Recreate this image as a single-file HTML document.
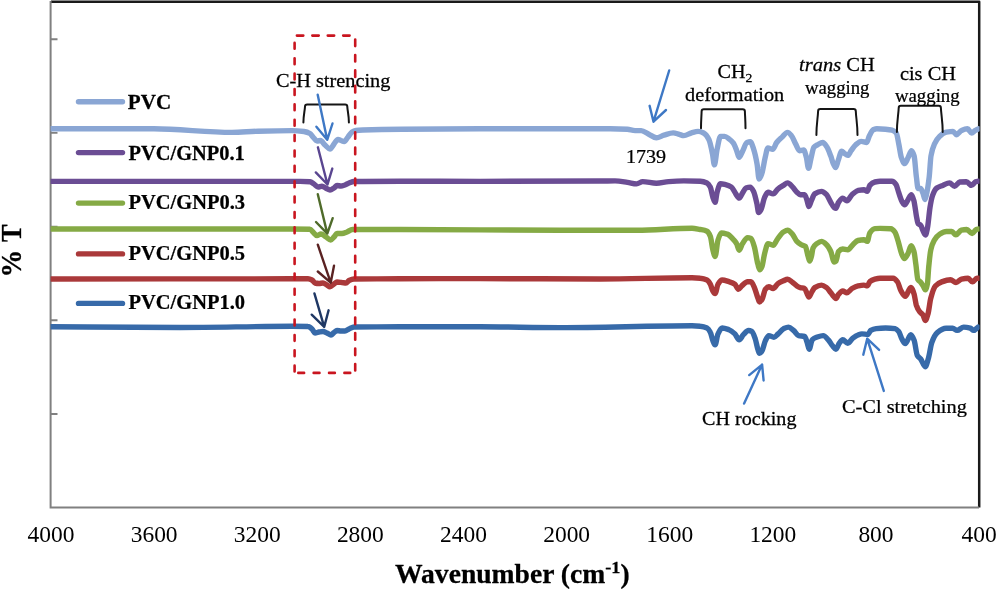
<!DOCTYPE html>
<html><head><meta charset="utf-8"><title>FTIR spectra</title>
<style>html,body{margin:0;padding:0;background:#fff;}svg{display:block;}</style>
</head><body>
<svg width="998" height="590" viewBox="0 0 998 590"><g fill="none" stroke-linecap="butt"><path d="M51 1.85 L979.2 1.85 L979.2 507.5" stroke="#1a1a1a" stroke-width="2.5" stroke-linejoin="round"/><path d="M50.6 1 L50.6 507.6 L979 507.6" stroke="#808080" stroke-width="2"/><path d="M50.6 39.2 H57.5 M50.6 132.9 H57.5 M50.6 226.6 H57.5 M50.6 320.3 H57.5 M50.6 414 H57.5 " stroke="#808080" stroke-width="1.9"/></g><defs><clipPath id="pa"><rect x="50.6" y="0" width="929" height="510"/></clipPath></defs><g fill="none" stroke-width="5.4" stroke-linejoin="round" stroke-linecap="round" clip-path="url(#pa)"><path d="M51 128.7 C85.3 128.7 119.7 128.7 154 128.8 C180 128.9 206 132.4 232 132.4 C240.7 132.4 249.3 131.4 258 131.2 C269.3 130.9 280.7 130.6 292 130.6 C296 130.6 300 131 304 131.5 C306 131.8 308 132.4 310 133.5 C311 134.1 312 135.9 313 137 C314.3 138.4 315.7 141 317 141 C318.2 141 319.3 140.5 320.5 140.5 C322 140.5 323.5 143.7 325 145 C326.7 146.5 328.3 149 330 149 C331.3 149 332.7 145.6 334 144 C335.3 142.4 336.7 139.5 338 139.5 C339 139.5 340 140.2 341 140.5 C342.1 140.8 343.1 141.5 344.2 141.5 C345.5 141.5 346.7 138.5 348 137 C349.3 135.4 350.7 132.8 352 132 C353.3 131.2 354.7 130.7 356 130.5 C358.3 130.2 360.7 130.1 363 130 C376 129.6 389 129.4 402 129.3 C428 129 454 128.8 480 128.8 C523.3 128.7 566.7 128.7 610 128.7 C615.8 128.7 621.6 128.9 627.4 129.3 C630 129.5 632.5 130.6 635.1 130.6 C637.1 130.6 639.2 130.6 641.2 130.6 C643.7 130.6 646.3 133 648.8 134.2 C651.3 135.4 653.9 137.8 656.4 137.8 C658.9 137.8 661.5 135.9 664 135.2 C667.1 134.3 670.1 132.9 673.2 132.9 C675.2 132.9 677.3 133.9 679.3 134.4 C680.8 134.8 682.3 135.6 683.8 135.6 C686.4 135.6 688.9 133.6 691.5 132.9 C693.7 132.3 695.9 131.4 698.1 131.4 C699.9 131.4 701.8 132.1 703.6 133 C705.4 133.9 707.2 136.2 709 139.8 C710.1 142.1 711.3 148 712.4 153.4 C713.1 156.6 713.7 164.9 714.4 164.9 C715.3 164.9 716.2 153.5 717.1 149.3 C718.2 144.1 719.4 136.4 720.5 136.4 C721.9 136.4 723.2 136.4 724.6 136.4 C726.2 136.4 727.7 137.9 729.3 139.1 C730.7 140.1 732 141.3 733.4 143.2 C734.5 144.7 735.6 147.9 736.7 150.7 C737.5 152.7 738.3 157.4 739.1 157.4 C740.3 157.4 741.6 153 742.8 150.7 C744.2 148.1 745.5 143 746.9 142.5 C748 142.1 749.2 141.8 750.3 141.8 C751.4 141.8 752.6 146 753.7 149.3 C754.8 152.6 756 157.8 757.1 164.2 C757.8 168 758.4 179.1 759.1 179.1 C760 179.1 760.9 176.2 761.8 173.7 C762.9 170.6 764.1 162 765.2 157.4 C766.1 153.8 767 147.9 767.9 147.9 C769.5 147.9 771.1 149.3 772.7 149.3 C774 149.3 775.4 144.2 776.7 142.5 C778.5 140.2 780.3 138.8 782.1 137.1 C783.9 135.4 785.7 132.4 787.5 132.4 C788.8 132.4 790.2 134.1 791.5 135.7 C792.9 137.3 794.2 141.4 795.6 143.9 C796.9 146.3 798.3 150.7 799.6 150.7 C801 150.7 802.3 150 803.7 150 C804.6 150 805.5 154.1 806.4 157.4 C807.1 159.9 807.8 168.3 808.5 168.3 C809.3 168.3 810.1 161.9 810.9 158.8 C811.9 154.9 812.9 148.5 813.9 147.3 C815.2 145.7 816.6 145.3 817.9 144.6 C819.5 143.7 821.1 142.5 822.7 142.5 C824 142.5 825.4 144.7 826.7 146.6 C828.1 148.5 829.4 152.5 830.8 156.1 C831.7 158.5 832.6 162.3 833.5 164.2 C834.2 165.7 834.9 167.6 835.6 167.6 C836.5 167.6 837.4 162.5 838.3 160.1 C839.4 157.1 840.6 151.3 841.7 151.3 C842.6 151.3 843.5 152.8 844.4 153.4 C845.5 154.2 846.7 155.4 847.8 155.4 C848.9 155.4 850 152.2 851.1 150.7 C852.7 148.5 854.3 145.9 855.9 144.6 C857.7 143.1 859.5 141.4 861.3 141.4 C863.1 141.4 864.9 142.5 866.7 142.5 C867.6 142.5 868.5 137.4 869.4 135.7 C870.8 133.1 872.1 130.2 873.5 129.6 C874.6 129.2 875.7 128.8 876.8 128.8 C879.6 128.8 882.5 129 885.3 129.2 C887.5 129.4 889.8 129.6 892 130.2 C893.4 130.6 894.9 131.3 896.3 133 C897.1 134 898 140.1 898.8 144.1 C899.7 148.2 900.5 155.2 901.4 157.6 C902.5 160.6 903.6 163.6 904.7 163.6 C905.8 163.6 907 159.7 908.1 157.6 C909.2 155.5 910.4 150.8 911.5 150.8 C912.4 150.8 913.2 153.1 914.1 155.9 C914.9 158.4 915.6 171.1 916.4 177 C917 181.4 917.5 188.5 918.1 188.5 C919 188.5 919.8 188.5 920.7 188.5 C921.5 188.5 922.4 191.7 923.2 193.9 C923.8 195.4 924.3 199.5 924.9 199.5 C925.5 199.5 926 196.3 926.6 193.9 C927.5 190.2 928.3 184.4 929.2 177 C929.8 171.9 930.4 159.3 931 155.9 C932.1 149.5 933.3 146.5 934.4 144.1 C936.1 140.4 937.8 137.9 939.5 136.4 C941.8 134.4 944 132.7 946.3 132.2 C948.5 131.8 950.8 131.4 953 131.4 C954.1 131.4 955.3 134.7 956.4 134.7 C958.1 134.7 959.8 131.2 961.5 130.5 C963.5 129.6 965.5 128.8 967.5 128.8 C968.9 128.8 970.3 133 971.7 133 C972.8 133 974 131.2 975.1 130.5 C976.2 129.8 977.4 129.4 978.5 128.8" stroke="#8aa6d4"/><path d="M51 181.4 C134 181.4 217 181.4 300 181.4 C303.3 181.4 306.7 181.5 310 181.8 C311.3 181.9 312.7 183.2 314 184 C315.3 184.8 316.7 187 318 187 C319.3 187 320.7 186.2 322 186.2 C323.3 186.2 324.7 187.6 326 188.2 C327.3 188.8 328.7 190 330 190 C331.3 190 332.7 188.8 334 188 C335 187.4 336 185.5 337 185.5 C338.3 185.5 339.7 186 341 186 C342.3 186 343.7 185.4 345 185 C346.3 184.6 347.7 183.5 349 183 C350.7 182.4 352.3 181.5 354 181.5 C369.3 181.2 384.7 181.2 400 181.2 C426.7 181.2 453.3 181.4 480 181.4 C520 181.4 560 181.2 600 181 C605 181 610 180.9 615 180.9 C619.1 180.9 623.3 181.8 627.4 182.4 C630.5 182.8 633.5 183.9 636.6 183.9 C638.6 183.9 640.7 181.6 642.7 181.6 C647.3 181.6 651.8 183.2 656.4 183.2 C660.5 183.2 664.5 181.9 668.6 181.6 C673.7 181.2 678.7 180.9 683.8 180.9 C689.3 180.9 694.7 181 700.2 181.2 C702.5 181.3 704.7 181.9 707 182.9 C708.1 183.4 709.2 184.9 710.3 187.1 C711.2 188.8 712 194.8 712.9 197.3 C713.6 199.4 714.4 202.4 715.1 202.4 C715.8 202.4 716.4 194.5 717.1 192.2 C718.2 188.3 719.4 183.7 720.5 183.7 C722.2 183.7 723.9 184.2 725.6 184.6 C727.6 185.1 729.5 185.7 731.5 187.1 C732.9 188.1 734.4 191.9 735.8 193.9 C736.9 195.5 738.1 198.1 739.2 198.1 C740.3 198.1 741.4 194.7 742.5 193 C743.6 191.3 744.8 188.4 745.9 188 C747.3 187.5 748.8 187.1 750.2 187.1 C751.3 187.1 752.5 189.3 753.6 191.4 C754.7 193.5 755.9 199.1 757 204.1 C757.5 206.5 758.1 212.5 758.6 212.5 C759.5 212.5 760.3 210.8 761.2 209.2 C762.3 207.1 763.5 199.7 764.6 197.3 C765.7 194.9 766.9 192.2 768 192.2 C769.7 192.2 771.4 193.9 773.1 193.9 C774.8 193.9 776.4 190.1 778.1 188.8 C779.9 187.4 781.6 186.5 783.4 185.4 C784.8 184.5 786.2 182.9 787.6 182.9 C789.3 182.9 791 185.4 792.7 187.1 C794.1 188.5 795.5 190.9 796.9 192.2 C798 193.2 799.2 194.7 800.3 194.7 C801.7 194.7 803.2 194.7 804.6 194.7 C805.4 194.7 806.3 198.3 807.1 200.7 C807.7 202.3 808.2 206.6 808.8 206.6 C809.7 206.6 810.5 202.6 811.4 200.7 C812.5 198.3 813.6 194.6 814.7 193.9 C817 192.4 819.2 191.4 821.5 191.4 C823.2 191.4 824.9 193 826.6 194.7 C828 196.1 829.4 200.1 830.8 202.4 C831.9 204.3 833.1 206.7 834.2 207.5 C834.8 207.9 835.3 208.3 835.9 208.3 C836.8 208.3 837.6 203.7 838.5 202.4 C839.9 200.4 841.3 198.1 842.7 198.1 C844.1 198.1 845.5 200.7 846.9 200.7 C848.6 200.7 850.3 196.2 852 194.7 C854 192.9 856 191 858 190.5 C860 190.1 861.9 189.7 863.9 189.7 C865 189.7 866.2 191.4 867.3 191.4 C868.1 191.4 869 186.3 869.8 185.4 C871.5 183.5 873.2 182.4 874.9 182 C876.6 181.6 878.3 181.2 880 181.2 C884 181.2 887.9 181.2 891.9 181.2 C893.3 181.2 894.7 182.7 896.1 184.6 C896.9 185.7 897.8 189.8 898.6 192.2 C899.7 195.5 900.9 199.5 902 201.5 C902.9 203 903.7 204.9 904.6 204.9 C905.7 204.9 906.9 201.5 908 199.8 C909.1 198.1 910.3 194.7 911.4 194.7 C912.2 194.7 913.1 197.8 913.9 200.7 C914.7 203.6 915.6 211.6 916.4 215.9 C917 218.8 917.5 222.9 918.1 223.6 C919 224.6 919.8 224.4 920.7 225.3 C921.5 226.2 922.4 229.5 923.2 231.2 C923.9 232.7 924.7 235 925.4 235 C926.1 235 926.8 231.1 927.5 227.8 C928.3 223.8 929.2 212.5 930 207.5 C930.8 202.5 931.7 197.8 932.5 195.6 C933.9 191.7 935.4 189 936.8 188 C938.8 186.6 940.7 186.2 942.7 185.4 C945 184.5 947.2 182.9 949.5 182.9 C951.2 182.9 952.9 186.3 954.6 186.3 C956.3 186.3 958 182.2 959.7 182 C961.9 181.8 964.2 181.7 966.4 181.7 C968.1 181.7 969.8 185.4 971.5 185.4 C972.9 185.4 974.4 182.1 975.8 181.7 C976.7 181.4 977.6 181.4 978.5 181.2" stroke="#6b4d94"/><path d="M51 229 C130.7 229 210.3 229 290 229 C296.7 229 303.3 229 310 229.2 C311 229.2 312 231.1 313 232 C314.3 233.2 315.7 235.6 317 235.6 C318.3 235.6 319.7 234 321 234 C322.7 234 324.3 236 326 237 C327.6 238 329.1 240 330.7 240 C331.8 240 332.9 238.1 334 237 C335 236 336 233.5 337 233.5 C338.7 233.5 340.3 233.5 342 233.5 C343.7 233.5 345.3 232.6 347 232 C348.8 231.3 350.6 229.5 352.4 229.5 C368.3 229.5 384.1 229.5 400 229.5 C453.3 229.5 506.7 230.3 560 230.3 C585.7 230.3 611.3 230.3 637 230.3 C655.3 230.3 673.7 228.2 692 228.2 C694.7 228.2 697.5 229 700.2 229.5 C702.5 229.9 704.7 230.1 707 231.2 C708.1 231.7 709.2 233.6 710.3 236.3 C711.2 238.4 712 246.7 712.9 250 C713.6 252.8 714.4 256.5 715.1 256.5 C716.1 256.5 717 243 718 240 C719.1 236.5 720.3 233 721.4 233 C723.4 233 725.3 233.6 727.3 234.2 C729.3 234.8 731.2 237.2 733.2 239.3 C734.3 240.5 735.5 241.6 736.6 243.6 C737.5 245.1 738.3 250.3 739.2 250.3 C740.3 250.3 741.4 245.3 742.5 243.6 C744.2 241 745.9 237.6 747.6 237.6 C748.7 237.6 749.9 238 751 238.5 C752.1 239 753.3 243.2 754.4 247 C755.5 250.8 756.7 259.8 757.8 263.9 C758.5 266.3 759.1 269.8 759.8 269.8 C760.5 269.8 761.3 268.1 762 266.4 C762.9 264.4 763.7 256.9 764.6 253.7 C765.7 249.5 766.9 243.6 768 243.6 C769.7 243.6 771.4 245.3 773.1 245.3 C774.5 245.3 775.9 241.1 777.3 239.3 C779.3 236.6 781.4 233.2 783.4 232 C784.8 231.2 786.2 230.3 787.6 230.3 C789.3 230.3 791 232.7 792.7 234.6 C794.1 236.2 795.5 239.9 796.9 241.4 C798.3 242.9 799.8 243.9 801.2 244.7 C802.6 245.4 804 245.3 805.4 246.4 C806.3 247.1 807.1 253.2 808 256 C808.6 257.8 809.1 261 809.7 261 C810.3 261 810.9 258.2 811.5 256 C812 254.2 812.5 249.2 813 248.1 C814.1 245.6 815.3 244.7 816.4 243.9 C818.1 242.7 819.8 241.4 821.5 241.4 C823.2 241.4 824.9 243.1 826.6 244.7 C828 246 829.4 248.5 830.8 251.5 C831.9 253.9 833.1 262 834.2 262 C834.8 262 835.4 261.6 836 261 C836.8 260.2 837.7 252.4 838.5 251.5 C839.9 250 841.3 249 842.7 249 C844.4 249 846.1 249.8 847.8 249.8 C849.5 249.8 851.2 246.2 852.9 244.7 C854.6 243.2 856.3 240.9 858 240.5 C860 240 861.9 239.7 863.9 239.7 C865 239.7 866.2 241.4 867.3 241.4 C868.1 241.4 869 234.1 869.8 232.9 C871.5 230.4 873.2 228.7 874.9 228.6 C876.6 228.5 878.3 228.4 880 228.4 C883.6 228.4 887.2 228.5 890.8 228.8 C892.2 228.9 893.5 230.4 894.9 232.2 C896 233.7 897.2 238.1 898.3 241.7 C899.4 245.3 900.6 251.3 901.7 253.9 C902.6 256 903.5 258.6 904.4 258.6 C905.5 258.6 906.7 255.9 907.8 253.9 C908.9 251.9 910.1 245.7 911.2 245.7 C912.1 245.7 913 248.3 913.9 251.2 C914.6 253.3 915.2 260 915.9 264.7 C916.6 269.4 917.2 278.4 917.9 279.6 C918.8 281.3 919.8 281.2 920.7 282.3 C921.6 283.4 922.5 285 923.4 286.4 C924.1 287.5 924.7 289.8 925.4 289.8 C926.1 289.8 926.7 287.1 927.4 283.7 C927.9 281.3 928.3 270.8 928.8 266.1 C929.5 259.4 930.1 252.7 930.8 249.8 C931.9 244.9 933.1 242.2 934.2 240.3 C936 237.3 937.8 235.3 939.6 234.2 C941.9 232.8 944.1 231.5 946.4 231.5 C948.2 231.5 950 231.5 951.8 231.5 C953.2 231.5 954.5 234.9 955.9 234.9 C957.7 234.9 959.5 230.6 961.3 230.2 C963.1 229.8 964.9 229.5 966.7 229.5 C968.5 229.5 970.3 233.6 972.1 233.6 C973.5 233.6 974.8 230 976.2 229.5 C977 229.2 977.7 229.2 978.5 229" stroke="#85aa45"/><path d="M51 279 C130.7 278.9 210.3 278.9 290 278.8 C296 278.8 302 278.7 308 278.7 C309.3 278.7 310.7 279.3 312 280 C313 280.5 314 282.8 315 283 C316.3 283.3 317.7 283.5 319 283.5 C320.3 283.5 321.7 283 323 283 C324.3 283 325.7 284.3 327 285 C328 285.5 329 286.8 330 286.8 C331.3 286.8 332.7 284.9 334 284 C335 283.3 336 282 337 282 C338.7 282 340.3 282.3 342 282.5 C343.3 282.6 344.7 283 346 283 C347 283 348 281 349 280.5 C350.7 279.7 352.3 279 354 279 C369.3 278.8 384.7 278.8 400 278.8 C426.7 278.7 453.3 278.6 480 278.6 C520 278.6 560 279 600 279 C630.7 279 661.3 277.8 692 277.8 C694.7 277.8 697.5 278 700.2 278.3 C702.5 278.5 704.7 279 707 280 C708.1 280.5 709.2 282.3 710.3 284.2 C711.2 285.7 712 289.6 712.9 291 C713.6 292.2 714.4 293.6 715.1 293.6 C716.1 293.6 717 285.7 718 284.2 C719.4 282 720.8 280 722.2 280 C724.5 280 726.7 281 729 281.7 C731 282.3 732.9 282.8 734.9 284.2 C736 285 737.2 289.3 738.3 289.3 C739.4 289.3 740.6 286.9 741.7 285.9 C743.7 284.2 745.6 281.7 747.6 281.7 C748.7 281.7 749.9 281.7 751 281.7 C752.1 281.7 753.3 285.1 754.4 287.6 C755.5 290.1 756.7 294.8 757.8 297.8 C758.4 299.3 758.9 302 759.5 302 C760.3 302 761.2 300.7 762 299.5 C763.1 297.8 764.3 290.6 765.4 289.3 C766.5 288 767.7 286.8 768.8 286.8 C770.2 286.8 771.7 288.5 773.1 288.5 C774.8 288.5 776.4 284.5 778.1 283.4 C779.9 282.2 781.6 281.6 783.4 280.8 C784.8 280.2 786.2 279.2 787.6 279.2 C789.3 279.2 791 281.3 792.7 282.5 C794.1 283.5 795.5 285 796.9 285.9 C798 286.6 799.2 287.3 800.3 287.6 C801.7 288 803.2 287.9 804.6 288.5 C805.4 288.8 806.3 291.9 807.1 293.6 C807.7 294.7 808.2 297 808.8 297 C809.7 297 810.5 294.1 811.4 292.7 C812.5 290.9 813.6 288.3 814.7 287.6 C817 286.2 819.2 285.1 821.5 285.1 C823.2 285.1 824.9 286.4 826.6 287.6 C828 288.6 829.4 291 830.8 292.7 C831.9 294.1 833.1 295.8 834.2 297 C834.8 297.6 835.3 298.6 835.9 298.6 C836.8 298.6 837.6 295.4 838.5 294.4 C839.9 292.8 841.3 291 842.7 291 C844.1 291 845.5 292.7 846.9 292.7 C848.6 292.7 850.3 289.5 852 288.5 C854 287.4 856 286.3 858 285.9 C860 285.5 861.9 285.1 863.9 285.1 C865 285.1 866.2 285.9 867.3 285.9 C868.1 285.9 869 282.4 869.8 281.7 C871.5 280.3 873.2 279.7 874.9 279.2 C876.6 278.7 878.3 278.2 880 278.2 C884.4 278.2 888.8 278.2 893.2 278.2 C894.7 278.2 896.1 280 897.6 282 C898.7 283.5 899.8 288.8 900.9 290.7 C902.4 293.3 903.8 296.3 905.3 296.3 C907.1 296.3 909 287.4 910.8 287.4 C911.9 287.4 913 290.8 914.1 294.1 C914.8 296.3 915.6 302.9 916.3 305.1 C917.4 308.3 918.5 310.3 919.6 311.7 C920.7 313.2 921.9 313.4 923 315 C923.7 316.1 924.5 320.5 925.2 320.5 C926.1 320.5 927.1 317 928 313.9 C928.9 310.9 929.8 302 930.7 298.5 C932.2 292.9 933.6 287.9 935.1 286.3 C937.3 283.8 939.5 282.7 941.7 281.9 C944.6 280.8 947.6 279.7 950.5 279.7 C952.3 279.7 954.2 282.6 956 282.6 C957.8 282.6 959.7 279.5 961.5 279.1 C963.7 278.6 965.9 278.2 968.1 278.2 C969.6 278.2 971 281.9 972.5 281.9 C974 281.9 975.4 278.2 976.9 278.2 C977.4 278.2 978 278.2 978.5 278.2" stroke="#aa393a"/><path d="M51 326.7 C94 327 137 327.5 180 327.5 C217.3 327.5 254.7 326.3 292 326.3 C297.3 326.3 302.7 326.3 308 326.5 C309.3 326.5 310.7 327.8 312 329 C313 329.9 314 333 315 333 C316.3 333 317.7 332.2 319 332 C320.3 331.8 321.7 331.5 323 331.5 C324.3 331.5 325.7 332.4 327 333 C328.3 333.6 329.7 335 331 335 C332 335 333 333.2 334 332.5 C335 331.8 336 330.5 337 330.5 C338.3 330.5 339.7 331 341 331 C342.3 331 343.7 331 345 331 C346.3 331 347.7 329.6 349 329 C350.7 328.3 352.3 327 354 327 C369.3 326.8 384.7 326.8 400 326.8 C426.7 326.8 453.3 326.8 480 326.8 C506.7 326.8 533.3 327.6 560 327.6 C604 327.6 648 325.8 692 325.8 C694.7 325.8 697.5 326 700.2 326.3 C702.5 326.5 704.7 327 707 328 C708.1 328.5 709.2 330.1 710.3 332.2 C711.2 333.8 712 338.6 712.9 340.7 C713.6 342.5 714.4 344.9 715.1 344.9 C716.1 344.9 717 335.9 718 333.9 C719.4 330.9 720.8 328 722.2 328 C724.5 328 726.7 328.9 729 329.7 C731 330.4 732.9 332 734.9 333.9 C736.3 335.3 737.8 339.8 739.2 339.8 C740.6 339.8 742 336.1 743.4 334.7 C745.1 333 746.8 330.5 748.5 330.5 C749.6 330.5 750.8 330.9 751.9 331.4 C753 331.9 754.2 335.7 755.3 339 C756.1 341.4 757 346.7 757.8 349.2 C758.4 350.9 758.9 353.4 759.5 353.4 C760.3 353.4 761.2 352.1 762 350.8 C763.1 349.1 764.3 343 765.4 340.7 C766.5 338.4 767.7 335.6 768.8 335.6 C770.5 335.6 772.2 337.3 773.9 337.3 C775.3 337.3 776.7 335.1 778.1 333.9 C779.9 332.4 781.6 329.7 783.4 328.8 C785.1 328 786.8 327.1 788.5 327.1 C790.2 327.1 791.9 329.1 793.6 330.5 C795.3 331.8 796.9 335.2 798.6 335.6 C800.6 336.1 802.6 335.8 804.6 336.4 C805.4 336.6 806.3 340.1 807.1 342.4 C807.8 344.3 808.5 349.2 809.2 349.2 C810.2 349.2 811.2 340.8 812.2 339.8 C813.6 338.3 815 337.8 816.4 337.3 C818.7 336.5 820.9 335.6 823.2 335.6 C824.9 335.6 826.6 338 828.3 339.8 C829.7 341.3 831.1 344.2 832.5 345.8 C833.6 347.1 834.8 349.2 835.9 349.2 C837 349.2 838.2 344.6 839.3 343.2 C840.4 341.8 841.6 339.8 842.7 339.8 C844.4 339.8 846.1 343.2 847.8 343.2 C849.5 343.2 851.2 339.4 852.9 338.1 C854.6 336.8 856.3 335.6 858 335 C859.3 334.5 860.6 333.9 861.9 333.9 C863.9 333.9 865.8 334.5 867.8 334.5 C868.8 334.5 869.8 330.9 870.8 330.3 C872.6 329.3 874.3 328.8 876.1 328.6 C879.3 328.2 882.4 328 885.6 328 C888.8 328 891.9 328.2 895.1 328.6 C896.3 328.8 897.5 330.1 898.7 331.5 C899.8 332.8 900.9 337.3 902 339.2 C903.1 341.1 904.2 343.6 905.3 343.6 C907.1 343.6 909 334.8 910.8 334.8 C911.9 334.8 913 337.6 914.1 340.3 C915.2 343 916.3 353.9 917.4 355.7 C918.5 357.5 919.6 357.6 920.7 359 C922.2 360.9 923.7 366.7 925.2 366.7 C926.3 366.7 927.4 361.6 928.5 357.9 C929.6 354.2 930.7 345.5 931.8 342.5 C933.6 337.6 935.5 334.1 937.3 332.6 C940.2 330.2 943.2 328.2 946.1 328.2 C948.3 328.2 950.5 328.2 952.7 328.2 C954.2 328.2 955.6 330.4 957.1 330.4 C959.3 330.4 961.5 327.1 963.7 327.1 C965.9 327.1 968.1 327.6 970.3 328.2 C971.4 328.5 972.5 330.4 973.6 330.4 C975.1 330.4 976.5 328.2 978 327.1" stroke="#376aa9"/></g><g fill="none" stroke-width="5.4" stroke-linejoin="round" stroke-linecap="round"><path d="M78.5 101.7 H122.5" stroke="#8aa6d4"/><path d="M78.5 152.6 H122.5" stroke="#6b4d94"/><path d="M78.5 203.1 H122.5" stroke="#85aa45"/><path d="M78.5 253.9 H122.5" stroke="#aa393a"/><path d="M78.5 303.4 H122.5" stroke="#376aa9"/></g><g fill="none" stroke="#151515" stroke-width="2" stroke-linecap="round" stroke-linejoin="round"><path d="M303.4 122.6 C303.4 115.3 304.8 110.8 305 106.6 Q305 104.4 307.2 104.4 L345.1 104.4 Q347.3 104.4 347.3 106.6 C347.5 110.8 348.9 115.3 348.9 122.6"/><path d="M701 128.3 C701 120.7 701.5 115.9 701.6 111.4 Q701.6 109.2 703.8 109.2 L742.7 109.2 Q744.9 109.2 744.9 111.4 C745 115.9 745.5 120.7 745.5 128.3"/><path d="M816.4 134.9 C816.4 124.5 817.8 118.1 818.1 111.2 Q818.1 109 820.3 109 L853.6 109 Q855.8 109 855.8 111.2 C856.1 118.1 857.5 124.5 857.5 134.9"/><path d="M896.9 131.9 C896.9 121.5 898.4 114.9 898.7 108 Q898.7 105.8 900.9 105.8 L938.7 105.8 Q940.9 105.8 940.9 108 C941.2 114.9 942.7 121.5 942.7 131.9"/></g><g fill="none" stroke-linecap="round" stroke-linejoin="round"><path d="M317.7 94.7 L327.2 139.8 M316.4 126.7 L327.2 139.8 L332.5 123.5" stroke="#3e78c5" stroke-width="2.4"/><path d="M317.9 147.3 L327.5 184.5 M315.8 172.4 L327.5 184.5 L332.3 168.6" stroke="#5a4690" stroke-width="2.4"/><path d="M317.8 194.2 L327.3 233.6 M316 222 L327.3 233.6 L332.7 218.2" stroke="#4f6b2a" stroke-width="2.4"/><path d="M317.8 244.7 L330.7 282.7 M317.8 271.5 L330.7 282.7 L334 265.8" stroke="#5a2222" stroke-width="2.4"/><path d="M314.4 293.4 L324.2 326.9 M311.7 314.7 L324.2 326.9 L328.6 310.3" stroke="#1f3864" stroke-width="2.4"/><path d="M669.2 70.5 L653.5 121.7 M649.6 105.8 L653.5 121.7 L666 110" stroke="#3e78c5" stroke-width="2.4"/><path d="M744.1 403.6 L762.1 364.6 M749.2 375.1 L762.1 364.6 L763.6 380.5" stroke="#3e78c5" stroke-width="2.4"/><path d="M883.8 390.9 L867.2 338.7 M863.3 354.7 L867.2 338.7 L879.1 349.9" stroke="#3e78c5" stroke-width="2.4"/></g><g font-family="'Liberation Serif', serif" fill="#000" stroke="#000" stroke-width="0.25"><text id="t4000" transform="translate(27.5 541.6) scale(1.0200 1)" font-size="23" font-weight="normal" stroke-width="0">4000</text><text id="t3600" transform="translate(130.7 541.6) scale(1.0200 1)" font-size="23" font-weight="normal" stroke-width="0">3600</text><text id="t3200" transform="translate(233.8 541.6) scale(1.0200 1)" font-size="23" font-weight="normal" stroke-width="0">3200</text><text id="t2800" transform="translate(336.9 541.6) scale(1.0200 1)" font-size="23" font-weight="normal" stroke-width="0">2800</text><text id="t2400" transform="translate(440 541.6) scale(1.0200 1)" font-size="23" font-weight="normal" stroke-width="0">2400</text><text id="t2000" transform="translate(543.2 541.6) scale(1.0200 1)" font-size="23" font-weight="normal" stroke-width="0">2000</text><text id="t1600" transform="translate(646.3 541.6) scale(1.0200 1)" font-size="23" font-weight="normal" stroke-width="0">1600</text><text id="t1200" transform="translate(749.4 541.6) scale(1.0200 1)" font-size="23" font-weight="normal" stroke-width="0">1200</text><text id="t800" transform="translate(858.4 541.6) scale(1.0200 1)" font-size="23" font-weight="normal" stroke-width="0">800</text><text id="t400" transform="translate(961.5 541.6) scale(1.0200 1)" font-size="23" font-weight="normal" stroke-width="0">400</text><text id="lg0" transform="translate(127.8 109.1) scale(1.0555 1)" font-size="20" font-weight="bold">PVC</text><text id="lg1" transform="translate(128.6 159.6) scale(1.0205 1)" font-size="20" font-weight="bold">PVC/GNP0.1</text><text id="lg3" transform="translate(128.6 208.7) scale(1.0231 1)" font-size="20" font-weight="bold">PVC/GNP0.3</text><text id="lg5" transform="translate(128.6 259.6) scale(1.0231 1)" font-size="20" font-weight="bold">PVC/GNP0.5</text><text id="lg10" transform="translate(128.6 309) scale(1.0231 1)" font-size="20" font-weight="bold">PVC/GNP1.0</text><text id="ch" transform="translate(275.9 86.5) scale(1.0684 1)" font-size="19" font-weight="normal">C-H strencing</text><text id="ch2" transform="translate(717.6 77.8) scale(1.0600 1)" font-size="19" font-weight="normal">CH<tspan font-size="13" dy="4.5">2</tspan></text><text id="def" transform="translate(685 101.3) scale(1.0699 1)" font-size="19" font-weight="normal">deformation</text><text id="trans" transform="translate(799 71.3) scale(1.0783 1)" font-size="19" font-weight="normal"><tspan font-style="italic">trans</tspan> CH</text><text id="wag1" transform="translate(805 94.2) scale(0.9857 1)" font-size="19" font-weight="normal">wagging</text><text id="cis" transform="translate(899.9 79.8) scale(1.0742 1)" font-size="19" font-weight="normal">cis CH</text><text id="wag2" transform="translate(895 102.2) scale(0.9876 1)" font-size="19" font-weight="normal">wagging</text><text id="n1739" transform="translate(626 163) scale(1.0567 1)" font-size="19" font-weight="normal">1739</text><text id="rock" transform="translate(702 424.5) scale(1.0600 1)" font-size="19" font-weight="normal">CH rocking</text><text id="ccl" transform="translate(842 412.5) scale(1.0714 1)" font-size="19" font-weight="normal">C-Cl stretching</text><text id="wave" transform="translate(395 582.6) scale(1.0421 1)" font-size="26.5" font-weight="bold">Wavenumber (cm<tspan font-size="17.5" dy="-9.5">-1</tspan><tspan dy="9.5">)</tspan></text><text id="pc" transform="translate(21.1 277.4) rotate(-90) scale(1.16 1.2)" font-size="24" font-weight="bold">%</text><text id="pt" transform="translate(21.1 241.9) rotate(-90) scale(1.1 1.26)" font-size="24" font-weight="bold">T</text></g><g fill="none" stroke="#c9151f" stroke-width="2.6" stroke-linecap="round"><path d="M296.9 35.6 H354" stroke-dasharray="6.4 9.03"/><path d="M355.2 39.5 V372" stroke-dasharray="6.6 8.85"/><path d="M298.3 372.9 H355" stroke-dasharray="5.8 9.57"/><path d="M294.6 42.9 V373" stroke-dasharray="5.9 9.47"/></g></svg>
</body></html>
